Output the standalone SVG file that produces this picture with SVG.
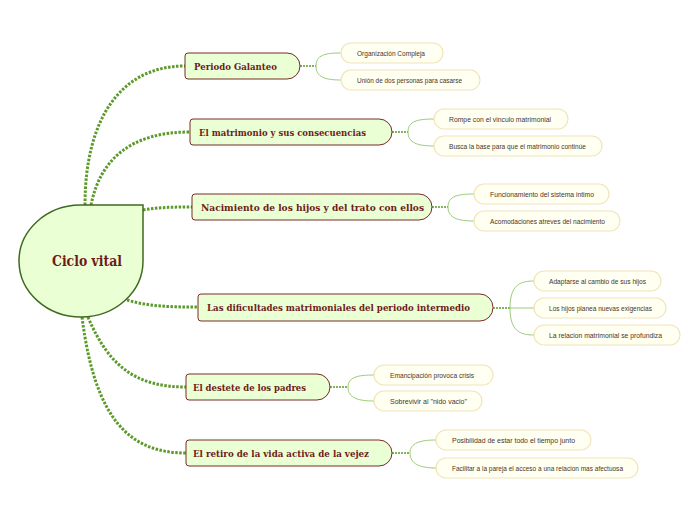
<svg xmlns="http://www.w3.org/2000/svg" width="696" height="520" viewBox="0 0 696 520">
<style>
.b{fill:#eaffd4;stroke:#7a2a2a;stroke-width:1}
.bt{font-family:"DejaVu Serif","Liberation Serif",serif;font-weight:bold;font-size:10px;fill:#6e1b1b}
.l{fill:#fffff2;stroke:#f0e4b8;stroke-width:1.2}
.lt{font-family:"Liberation Sans",Arial,sans-serif;font-size:8px;fill:#4a3526}
.m{fill:none;stroke:#5a9a28;stroke-width:3;stroke-dasharray:2.5 1.5}
.s{fill:none;stroke:#9ccc78;stroke-width:1}
.h{fill:none;stroke:#5a9a28;stroke-width:1.5;stroke-dasharray:2 1}
</style>
<rect width="696" height="520" fill="#fff"/>
<g id="connectors">
<path class="m" d="M85,205 C85,120 120,66 185,66"/>
<path class="m" d="M91,205 C100,160 130,132 190,132"/>
<path class="m" d="M143,210 C160,207 175,207 192,207"/>
<path class="m" d="M127,300 C150,307 175,307 198,307"/>
<path class="m" d="M88,317 C110,370 140,387 186,387"/>
<path class="m" d="M82,317 C95,420 130,453 186,453"/>
<path class="h" d="M300,66 H316"/><path class="s" d="M316,66 C316,55 325,53 341,53 M316,66 C316,77 325,80 341,80"/>
<path class="h" d="M392,132 H408"/><path class="s" d="M408,132 C408,121 418,119 434,119 M408,132 C408,143 418,146 434,146"/>
<path class="h" d="M432,207 H448"/><path class="s" d="M448,207 C448,196 458,194 474,194 M448,207 C448,218 458,221 474,221"/>
<path class="h" d="M493,308 H510"/><path class="s" d="M510,308 C510,285 520,281 534,281 M510,308 H534 M510,308 C510,331 520,335 534,335"/>
<path class="h" d="M330,387 H348"/><path class="s" d="M348,387 C348,377 358,375 374,375 M348,387 C348,398 358,401 374,401"/>
<path class="h" d="M392,453 H410"/><path class="s" d="M410,453 C410,443 420,440 436,440 M410,453 C410,464 420,468 436,468"/>
</g>
<g id="central"><path d="M80,205 H143 V261 A62,56 0 1 1 80,205 Z" fill="#eaffd4" stroke="#3f6a1f" stroke-width="1.5"/>
<text x="52" y="266" font-family="DejaVu Serif,serif" font-weight="bold" font-size="14" fill="#6e1b1b" textLength="70" lengthAdjust="spacingAndGlyphs">Ciclo vital</text></g>
<g id="b1"><path class="b" d="M188,53 H287 A13,13 0 0 1 287,79 H188 A3,3 0 0 1 185,76 V56 A3,3 0 0 1 188,53 Z"/><text class="bt" x="194" y="70" textLength="83" lengthAdjust="spacingAndGlyphs">Periodo Galanteo</text></g>
<g id="b2"><path class="b" d="M193,119 H379 A13,13 0 0 1 379,145 H193 A3,3 0 0 1 190,142 V122 A3,3 0 0 1 193,119 Z"/><text class="bt" x="199" y="136" textLength="167" lengthAdjust="spacingAndGlyphs">El matrimonio y sus consecuencias</text></g>
<g id="b3"><path class="b" d="M195,194 H419 A13,13 0 0 1 419,220 H195 A3,3 0 0 1 192,217 V197 A3,3 0 0 1 195,194 Z"/><text class="bt" x="201" y="211" textLength="223" lengthAdjust="spacingAndGlyphs">Nacimiento de los hijos y del trato con ellos</text></g>
<g id="b4"><path class="b" d="M201,294 H480 A13,13.5 0 0 1 480,321 H201 A3,3 0 0 1 198,318 V297 A3,3 0 0 1 201,294 Z"/><text class="bt" x="207" y="311" textLength="263" lengthAdjust="spacingAndGlyphs">Las dificultades matrimoniales del periodo intermedio</text></g>
<g id="b5"><path class="b" d="M189,374 H317 A13,13 0 0 1 317,400 H189 A3,3 0 0 1 186,397 V377 A3,3 0 0 1 189,374 Z"/><text class="bt" x="193" y="391" textLength="113" lengthAdjust="spacingAndGlyphs">El destete de los padres</text></g>
<g id="b6"><path class="b" d="M189,440 H379 A13,13 0 0 1 379,466 H189 A3,3 0 0 1 186,463 V443 A3,3 0 0 1 189,440 Z"/><text class="bt" x="193" y="457" textLength="176" lengthAdjust="spacingAndGlyphs">El retiro de la vida activa de la vejez</text></g>
<g id="l1a"><rect class="l" x="341" y="43" width="102" height="20" rx="10"/><text class="lt" x="357" y="56" textLength="68" lengthAdjust="spacingAndGlyphs">Organización Compleja</text></g>
<g id="l1b"><rect class="l" x="341" y="70" width="139" height="20" rx="10"/><text class="lt" x="357" y="83" textLength="105" lengthAdjust="spacingAndGlyphs">Unión de dos personas para casarse</text></g>
<g id="l2a"><rect class="l" x="434" y="109" width="134" height="20" rx="10"/><text class="lt" x="449" y="122" textLength="102" lengthAdjust="spacingAndGlyphs">Rompe con el vinculo matrimonial</text></g>
<g id="l2b"><rect class="l" x="434" y="136" width="168" height="20" rx="10"/><text class="lt" x="449" y="149" textLength="137" lengthAdjust="spacingAndGlyphs">Busca la base para que el matrimonio continúe</text></g>
<g id="l3a"><rect class="l" x="474" y="184" width="135" height="20" rx="10"/><text class="lt" x="490" y="197" textLength="104" lengthAdjust="spacingAndGlyphs">Funcionamiento del sistema intimo</text></g>
<g id="l3b"><rect class="l" x="474" y="211" width="146" height="20" rx="10"/><text class="lt" x="490" y="224" textLength="115" lengthAdjust="spacingAndGlyphs">Acomodaciones atreves del nacimiento</text></g>
<g id="l4a"><rect class="l" x="534" y="271" width="127" height="20" rx="10"/><text class="lt" x="549" y="284" textLength="97" lengthAdjust="spacingAndGlyphs">Adaptarse al cambio de sus hijos</text></g>
<g id="l4b"><rect class="l" x="534" y="298" width="132" height="20" rx="10"/><text class="lt" x="549" y="311" textLength="103" lengthAdjust="spacingAndGlyphs">Los hijos planea nuevas exigencias</text></g>
<g id="l4c"><rect class="l" x="534" y="325" width="146" height="20" rx="10"/><text class="lt" x="549" y="338" textLength="113" lengthAdjust="spacingAndGlyphs">La relacion matrimonial se profundiza</text></g>
<g id="l5a"><rect class="l" x="374" y="365" width="119" height="20" rx="10"/><text class="lt" x="390" y="378" textLength="84" lengthAdjust="spacingAndGlyphs">Emancipación provoca crisis</text></g>
<g id="l5b"><rect class="l" x="374" y="391" width="108" height="20" rx="10"/><text class="lt" x="390" y="404" textLength="77" lengthAdjust="spacingAndGlyphs">Sobrevivir al  "nido vacio"</text></g>
<g id="l6a"><rect class="l" x="436" y="430" width="155" height="20" rx="10"/><text class="lt" x="452" y="443" textLength="123" lengthAdjust="spacingAndGlyphs">Posibilidad de estar todo el tiempo junto</text></g>
<g id="l6b"><rect class="l" x="436" y="458" width="202" height="20" rx="10"/><text class="lt" x="452" y="471" textLength="171" lengthAdjust="spacingAndGlyphs">Facilitar a la pareja el acceso a una relacion mas afectuosa</text></g>
</svg>
